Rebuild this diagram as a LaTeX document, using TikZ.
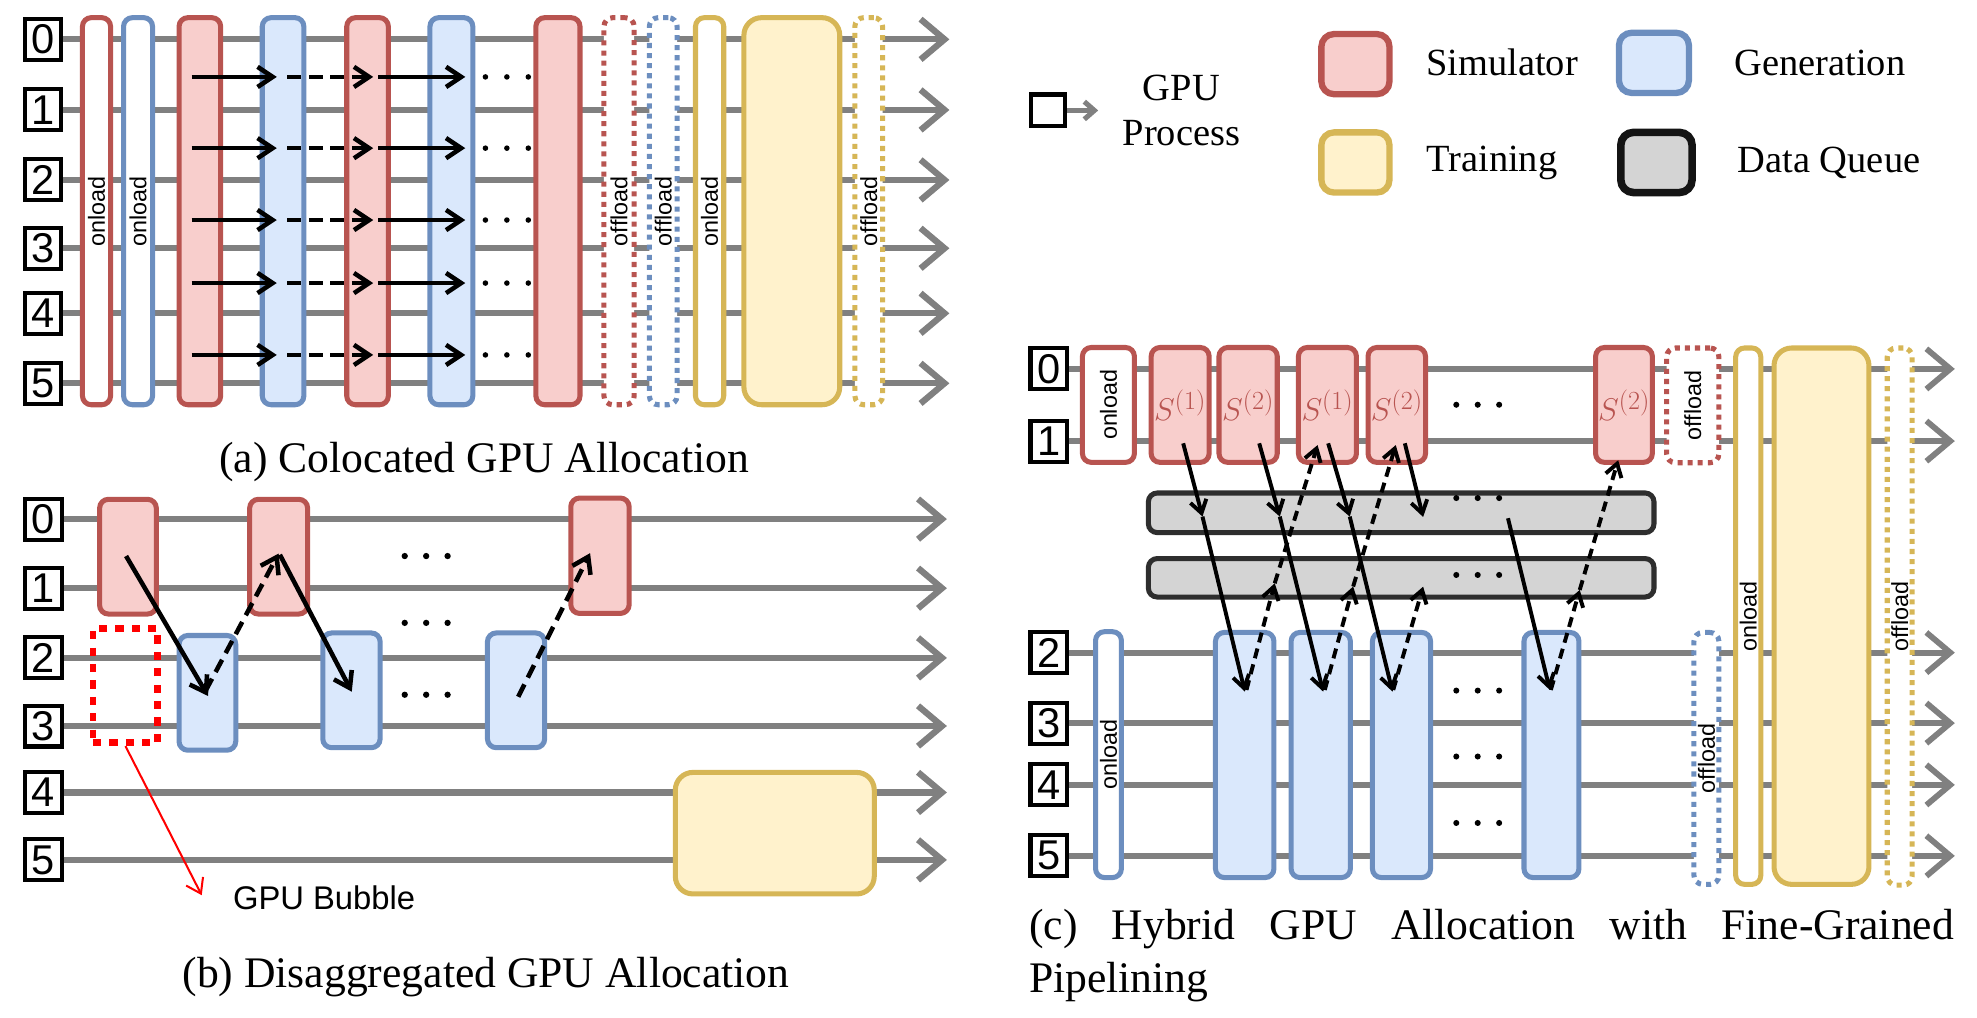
\documentclass[tikz,border=0pt]{standalone}
\usepackage{fontspec}
\setmainfont{Liberation Serif}
\setsansfont{Liberation Sans}
\usepackage{graphicx}
\usetikzlibrary{arrows.meta}
\definecolor{simd}{HTML}{B85450}
\definecolor{simf}{HTML}{F8CECC}
\definecolor{gend}{HTML}{6C8EBF}
\definecolor{genf}{HTML}{DAE8FC}
\definecolor{trd}{HTML}{D6B656}
\definecolor{trf}{HTML}{FFF2CC}
\definecolor{qd}{HTML}{2E2E2E}
\definecolor{qf}{HTML}{D4D4D4}
\definecolor{gl}{HTML}{808080}
\newcommand\mkbox[7]{\node[#2, minimum width={#5-#3-4}, minimum height={#6-#4-4}] (#1) at ({(#3+#5)/2},{(#4+#6)/2}) {#7};}
\newcommand\slab[1]{\textcolor{simd}{\fontsize{28}{28}\selectfont$S^{(#1)}$}}
\newcommand\vt[1]{\rotatebox{90}{#1}}
\begin{document}
\begin{tikzpicture}[x=1pt,y=-1pt,
  tl/.style={draw=gl, line width=5pt, -{Straight Barb[length=19pt,width=32pt]}},
  lbl/.style={draw=black, fill=white, line width=3.2pt, inner sep=0pt, minimum width=28.8pt, minimum height=32.5pt, font=\sffamily\fontsize{33}{33}\selectfont},
  bxs/.style={line width=4pt, rounded corners=7pt, inner sep=0pt, font=\sffamily\fontsize{18.5}{18.5}\selectfont},
  sim/.style={bxs, draw=simd, fill=simf},
  simw/.style={bxs, draw=simd, fill=white},
  simo/.style={bxs, draw=simd, fill=white, dash pattern=on 4pt off 4pt},
  gen/.style={bxs, draw=gend, fill=genf},
  genw/.style={bxs, draw=gend, fill=white},
  geno/.style={bxs, draw=gend, fill=white, dash pattern=on 4pt off 4pt},
  tr/.style={bxs, draw=trd, fill=trf},
  trw/.style={bxs, draw=trd, fill=white},
  tro/.style={bxs, draw=trd, fill=white, dash pattern=on 4pt off 4pt},
  queue/.style={bxs, draw=qd, fill=qf},
  bubble/.style={draw=red, line width=5.5pt, dash pattern=on 6.5pt off 6.5pt, inner sep=0pt},
  arr/.style={line width=3.6pt, -{Straight Barb[length=12pt,width=16pt]}},
  darr/.style={arr, dash pattern=on 11pt off 6pt},
  carr/.style={line width=3.1pt, -{Straight Barb[length=10pt,width=13pt]}},
  cdarr/.style={carr, dash pattern=on 8pt off 5pt},
  captxt/.style={font=\fontsize{34.6}{40}\selectfont, inner sep=0pt},
  leg/.style={font=\fontsize{30.5}{34}\selectfont, inner sep=0pt},
  dotc/.style={fill=black}
]
\useasboundingbox (0,0) rectangle (1568,807);

% ================= Panel (a) =================
\foreach \i/\y in {0/31.2,1/87.2,2/142.7,3/196.9,4/248.5,5/304}{
  \node[lbl] (a\i) at (34,\y) {\i};
  \coordinate (ae\i) at (753,\y);
  \draw[tl] (a\i.east) -- (ae\i);
}
\mkbox{aonr}{simw}{63.4}{12}{89.7}{323}{\vt{onload}}
\mkbox{aonb}{genw}{96}{12}{123}{323}{\vt{onload}}
\mkbox{asim1}{sim}{140}{12}{177}{323}{}
\mkbox{agen1}{gen}{206}{12}{243}{323}{}
\mkbox{asim2}{sim}{273}{12}{310}{323}{}
\mkbox{agen2}{gen}{339}{12}{377}{323}{}
\mkbox{asim3}{sim}{423}{12}{462}{323}{}
\mkbox{aoffr}{simo}{477}{12}{505}{323}{\vt{offload}}
\mkbox{aoffb}{geno}{513}{12}{539}{323}{\vt{offload}}
\mkbox{aont}{trw}{549.6}{12}{576}{323}{\vt{onload}}
\mkbox{atr}{tr, rounded corners=14pt}{588}{12}{668}{323}{}
\mkbox{aofft}{tro}{676}{12}{702}{323}{\vt{offload}}
\foreach \i/\y in {0/61,1/117.5,2/174.5,3/224.5,4/281.5}{
  \coordinate (aA\i) at (152,\y); \coordinate (aB\i) at (219.5,\y);
  \coordinate (aC\i) at (228,\y); \coordinate (aD\i) at (296,\y);
  \coordinate (aE\i) at (300,\y); \coordinate (aF\i) at (369,\y);
  \draw[arr] (aA\i) -- (aB\i);
  \draw[darr] (aC\i) -- (aD\i);
  \draw[arr] (aE\i) -- (aF\i);
  \foreach \x in {385,402,419} \fill[dotc] (\x,\y) circle (2.2);
}
\node[captxt, anchor=base] (capa) at (384,375) {(a) Colocated GPU Allocation};

% ================= Panel (b) =================
\foreach \i/\y in {0/411.7,1/466.5,2/521.8,3/575.8,4/628.5,5/682}{
  \node[lbl] (b\i) at (34.5,\y) {\i};
  \coordinate (be\i) at (751,\y);
  \draw[tl] (b\i.east) -- (be\i);
}
\mkbox{bsim1}{sim}{77}{394}{126}{489}{}
\mkbox{bsim2}{sim}{196}{394}{246}{489}{}
\mkbox{bsim3}{sim}{450.7}{393}{501}{488.5}{}
\mkbox{bgen1}{gen}{140}{502}{189}{597}{}
\mkbox{bgen2}{gen}{254}{500}{303.5}{595}{}
\mkbox{bgen3}{gen}{384.6}{500}{434}{595}{}
\mkbox{btr}{tr, rounded corners=14pt}{533.6}{610.6}{695.4}{711}{}
\node[bubble, minimum width=51.5, minimum height=90.2] (bbub) at (99.5,543.9) {};
\coordinate (bA) at (100,441); \coordinate (bB) at (165,552);
\coordinate (bC) at (163,548); \coordinate (bD) at (221,439);
\coordinate (bE) at (222,440); \coordinate (bF) at (279,548.6);
\coordinate (bG) at (411,552.6); \coordinate (bH) at (468,438.7);
\draw[arr] (bA) -- (bB);
\draw[darr] (bC) -- (bD);
\draw[arr] (bE) -- (bF);
\draw[darr] (bG) -- (bH);
\foreach \y in {441,494,551} \foreach \x in {321,338,355} \fill[dotc] (\x,\y) circle (2.5);
\coordinate (bubtip) at (160,710);
\draw[red, line width=1.6pt, -{Straight Barb[length=11pt,width=15pt]}] (bbub.south) -- (bubtip);
\node[anchor=base west, inner sep=0pt, font=\sffamily\fontsize{26}{26}\selectfont] (bubtxt) at (184.6,721.6) {GPU Bubble};
\node[captxt, anchor=base] (capb) at (385.5,783) {(b) Disaggregated GPU Allocation};

% ================= Legend =================
\node[draw=black, fill=white, line width=3.5pt, inner sep=0pt, minimum width=27pt, minimum height=25pt] (lgbox) at (831.3,87.6) {};
\coordinate (lgtip) at (871,87.6);
\draw[gl, line width=4pt, -{Straight Barb[length=8pt,width=14pt]}] (lgbox.east) -- (lgtip);
\node[leg, anchor=base] (lggpu) at (937,80) {GPU};
\node[leg, anchor=base] (lgproc) at (937,115) {Process};
\mkbox{lgsim}{sim, line width=5pt, rounded corners=10pt}{1046}{25}{1104}{76.7}{}
\mkbox{lggen}{gen, line width=5pt, rounded corners=10pt}{1282}{24}{1341.5}{75.7}{}
\mkbox{lgtr}{tr, line width=5pt, rounded corners=10pt}{1046}{103}{1104}{154.7}{}
\mkbox{lgq}{queue, draw=black!92, line width=6pt, rounded corners=10pt}{1283.5}{103}{1344}{154.7}{}
\node[leg, anchor=base west] (lgsimt) at (1131,59.5) {Simulator};
\node[leg, anchor=base west] (lggent) at (1375.5,59.5) {Generation};
\node[leg, anchor=base west] (lgtrt) at (1131,136) {Training};
\node[leg, anchor=base west] (lgqt) at (1378,137) {Data Queue};

% ================= Panel (c) =================
\foreach \i/\y in {0/292.6,1/349.8,2/517.6,3/573.5,4/622.5,5/678.8}{
  \node[lbl] (c\i) at (831.7,\y) {\i};
  \coordinate (ce\i) at (1550.4,\y);
  \draw[tl, line width=4.6pt] (c\i.east) -- (ce\i);
}
\mkbox{conr}{simw}{856.5}{273.6}{901.7}{368.7}{\vt{onload}}
\mkbox{cs1}{sim}{911}{273.6}{961}{368.7}{\slab{1}}
\mkbox{cs2}{sim}{964.8}{273.6}{1015}{368.7}{\slab{2}}
\mkbox{cs3}{sim}{1027.8}{273.6}{1077.8}{368.7}{\slab{1}}
\mkbox{cs4}{sim}{1083}{273.6}{1132.6}{368.7}{\slab{2}}
\mkbox{cs5}{sim}{1263.5}{273.6}{1312.5}{368.7}{\slab{2}}
\mkbox{coffr}{simo}{1319.8}{274}{1365.3}{369}{\vt{offload}}
\mkbox{cont}{trw}{1374.6}{274}{1398.5}{703.4}{\vt{onload}}
\mkbox{ctr}{tr, rounded corners=14pt}{1405}{274}{1484.3}{703.4}{}
\mkbox{cofft}{tro}{1494.8}{274}{1518.6}{704}{\vt{offload}}
\mkbox{conb}{genw}{866.9}{499}{891.4}{698}{\vt{onload}}
\mkbox{cg1}{gen}{962}{499.6}{1012.4}{698}{}
\mkbox{cg2}{gen}{1022}{499.6}{1073}{698}{}
\mkbox{cg3}{gen}{1086.5}{499.6}{1136.6}{698}{}
\mkbox{cg4}{gen}{1206.7}{499.6}{1254.3}{698}{}
\mkbox{coffb}{geno}{1341.5}{499.6}{1365.3}{703.4}{\vt{offload}}
\mkbox{cq1}{queue}{908.8}{389}{1313.8}{424.4}{}
\mkbox{cq2}{queue}{908.8}{441}{1313.8}{475.5}{}
\foreach \y in {321,395,456,547.7,600,652.7} \foreach \x in {1155,1172,1189} \fill[dotc] (\x,\y) circle (2.4);
% S -> queue 1
\coordinate (s1a) at (938.4,351.6); \coordinate (s1b) at (953.7,409.7);
\coordinate (s2a) at (998.7,351.6); \coordinate (s2b) at (1015,409.7);
\coordinate (s3a) at (1053.4,351.6); \coordinate (s3b) at (1070.5,409.7);
\coordinate (s4a) at (1114.2,351.6); \coordinate (s4b) at (1128.7,410);
\draw[carr] (s1a) -- (s1b);
\draw[carr] (s2a) -- (s2b);
\draw[carr] (s3a) -- (s3b);
\draw[carr] (s4a) -- (s4b);
% queue 1 -> generation
\coordinate (l1b) at (987.3,548.5);
\coordinate (l2b) at (1049.4,548.5);
\coordinate (l3b) at (1104.4,548.5);
\coordinate (l4a) at (1196,411); \coordinate (l4b) at (1229.2,547.2);
\draw[carr] (s1b) -- (l1b);
\draw[carr] (s2b) -- (l2b);
\draw[carr] (s3b) -- (l3b);
\draw[carr] (l4a) -- (l4b);
% generation -> queue 2
\coordinate (d1a) at (988.6,547.2); \coordinate (d1b) at (1011,462.6);
\coordinate (d2a) at (1050.7,547.2); \coordinate (d2b) at (1073.2,465.2);
\coordinate (d3a) at (1105,547.2); \coordinate (d3b) at (1128.7,465.3);
\coordinate (d4a) at (1230,547.2); \coordinate (d4b) at (1252.9,467.9);
\draw[cdarr] (d1a) -- (d1b);
\draw[cdarr] (d2a) -- (d2b);
\draw[cdarr] (d3a) -- (d3b);
\draw[cdarr] (d4a) -- (d4b);
% queue 2 -> simulator
\coordinate (u1b) at (1045,353);
\coordinate (u2b) at (1107,353);
\coordinate (u4b) at (1283.4,365);
\draw[cdarr] (d1b) -- (u1b);
\draw[cdarr] (d2b) -- (u2b);
\draw[cdarr] (d4b) -- (u4b);
\node[captxt, anchor=base west] (capc1) at (816,745) {\makebox[733.6pt][s]{(c) Hybrid GPU Allocation with Fine-Grained}};
\node[captxt, anchor=base west] (capc2) at (816,787) {Pipelining};
\end{tikzpicture}
\end{document}
